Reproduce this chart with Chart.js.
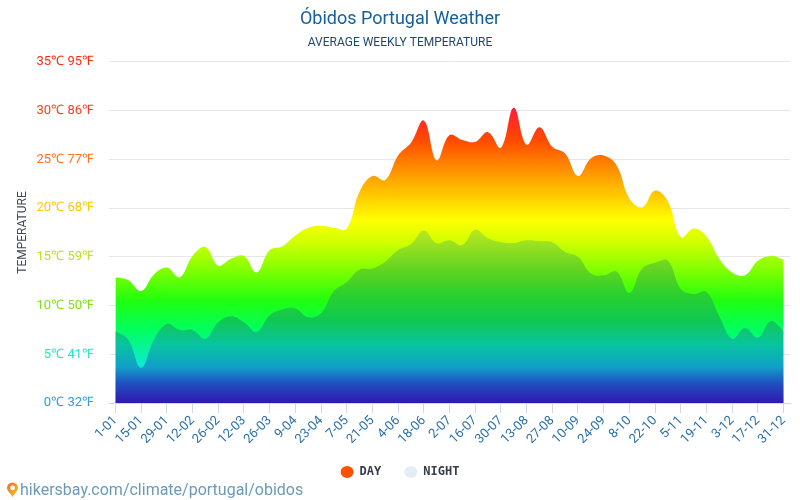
<!DOCTYPE html>
<html>
<head>
<meta charset="utf-8">
<title>Óbidos Portugal Weather</title>
<script src="https://cdn.jsdelivr.net/npm/chart.js@4"></script>
<style>
    html, body { margin: 0; padding: 0; background: #fff; }
    #wrap { position: relative; width: 800px; height: 500px; overflow: hidden; }
    #footer { position: absolute; left: 20px; top: 480px; font: 16px Roboto, sans-serif; color: #6b9ab8; line-height: 20px; white-space: nowrap; }
    #pin { position: absolute; left: 6px; top: 482px; }
</style>
</head>
<body>
<div id="wrap">
    <canvas id="chart" width="800" height="500"></canvas>
    <svg id="pin" width="13" height="16" viewBox="0 0 13 16">
        <defs>
            <linearGradient id="pinGrad" x1="0" y1="0" x2="1" y2="1">
                <stop offset="0" stop-color="#f2683a"/>
                <stop offset="0.6" stop-color="#f5a623"/>
                <stop offset="1" stop-color="#c9c23a"/>
            </linearGradient>
        </defs>
        <path d="M6.5 15 C4 11 1 8.8 1 5.8 A5.5 5.2 0 0 1 12 5.8 C12 8.8 9 11 6.5 15 Z M6.5 3.6 A2.3 2.3 0 1 0 6.5 8.2 A2.3 2.3 0 1 0 6.5 3.6 Z" fill="url(#pinGrad)" fill-rule="evenodd"/>
    </svg>
    <div id="footer">hikersbay.com/climate/portugal/obidos</div>
</div>
<script>
const weeks = ['1-01','8-01','15-01','22-01','29-01','5-02','12-02','19-02','26-02','5-03','12-03','19-03','26-03',
    '2-04','9-04','16-04','23-04','30-04','7-05','14-05','21-05','28-05','4-06','11-06','18-06','25-06','2-07',
    '9-07','16-07','23-07','30-07','6-08','13-08','20-08','27-08','3-09','10-09','17-09','24-09','1-10','8-10',
    '15-10','22-10','29-10','5-11','12-11','19-11','26-11','3-12','10-12','17-12','24-12','31-12'];

const dayTemps = [12.9,12.6,11.5,13.2,13.9,12.9,15.1,16.0,14.1,14.8,15.1,13.4,15.7,16.1,17.2,18.0,18.2,18.0,17.9,
    21.7,23.3,22.9,25.4,26.7,29.0,24.9,27.5,27.0,26.8,27.8,26.2,30.3,26.5,28.3,26.3,25.6,23.3,25.1,25.4,24.4,
    21.0,20.1,21.8,20.7,17.0,17.9,17.1,14.8,13.4,13.1,14.6,15.1,14.7];

const nightTemps = [7.4,6.5,3.6,6.5,8.1,7.5,7.5,6.6,8.3,8.9,8.3,7.3,9.0,9.6,9.7,8.8,9.2,11.5,12.4,13.7,13.8,14.5,
    15.7,16.3,17.7,16.4,16.7,16.2,17.8,16.9,16.5,16.4,16.7,16.6,16.5,15.5,15.0,13.3,13.1,13.5,11.3,13.8,14.4,14.6,
    11.7,11.2,11.4,8.9,6.6,7.7,6.7,8.4,7.4];

const yTickLabels = ['0℃ 32℉','5℃ 41℉','10℃ 50℉','15℃ 59℉','20℃ 68℉','25℃ 77℉','30℃ 86℉','35℃ 95℉'];
const yTickColors = ['#28a0e8','#20e8c8','#7ee020','#c0e020','#ffc800','#ff7020','#ff3d1a','#ff2a10'];

// gradient stops: [temperature, colour]
const dayStops = [[30.3,'#ff1a3c'],[27,'#ff4a00'],[23.4,'#ff9c00'],[18.8,'#ffff00'],[16.5,'#d0ff00'],[13.6,'#80ff00'],
    [10.5,'#20ff10'],[7.5,'#00ff60'],[3.9,'#10e8d0'],[2,'#1a70c8'],[0,'#3018b0']];
const nightStops = [[18,'#c0e820'],[13.6,'#60d420'],[11,'#28d030'],[8.5,'#10c850'],[6,'#08c4a0'],[3.7,'#10a0c8'],
    [2,'#2050c0'],[0,'#3018b0']];

function areaFill(stops) {
    return function (ctx) {
        const chart = ctx.chart;
        if (!chart.chartArea) return null;
        const y = chart.scales.y;
        const top = y.getPixelForValue(35), bottom = y.getPixelForValue(0);
        const g = chart.ctx.createLinearGradient(0, top, 0, bottom);
        stops.forEach(function (s) {
            g.addColorStop((y.getPixelForValue(s[0]) - top) / (bottom - top), s[1]);
        });
        return g;
    };
}

const legendColors = ['#ff5000', '#e6ecf5'];

new Chart(document.getElementById('chart'), {
    type: 'line',
    data: {
        labels: weeks,
        datasets: [
            { label: 'DAY', data: dayTemps, order: 2, fill: 'origin', backgroundColor: areaFill(dayStops), borderWidth: 0, pointRadius: 0, tension: 0.4 },
            { label: 'NIGHT', data: nightTemps, order: 1, fill: 'origin', backgroundColor: areaFill(nightStops), borderWidth: 0, pointRadius: 0, tension: 0.4 }
        ]
    },
    options: {
        responsive: false,
        animation: false,
        layout: { padding: { bottom: 12, top: 9, right: 10, left: 10 } },
        plugins: {
            title: { display: true, text: 'Óbidos Portugal Weather', color: '#14609a', font: { family: 'Roboto', size: 18, weight: 'normal' }, padding: { top: 0, bottom: 4 } },
            subtitle: { display: true, text: 'AVERAGE WEEKLY TEMPERATURE', color: '#1a4a78', font: { family: 'Roboto', size: 12, weight: 'normal' }, padding: { top: 1, bottom: 12 } },
            legend: {
                position: 'bottom',
                labels: {
                    usePointStyle: true,
                    boxHeight: 8.5,
                    pointStyleWidth: 13,
                    padding: 23,
                    color: '#373d4a',
                    font: { family: 'DejaVu Sans Mono', size: 12, weight: 'bold' },
                    generateLabels: function (chart) {
                        return chart.data.datasets.map(function (ds, i) {
                            return { text: ds.label, fillStyle: legendColors[i], strokeStyle: legendColors[i], lineWidth: 0, pointStyle: 'circle', datasetIndex: i, fontColor: '#373d4a' };
                        });
                    }
                }
            },
            tooltip: { enabled: false }
        },
        scales: {
            x: {
                offset: true,
                border: { color: '#cdd8ea' },
                grid: { drawOnChartArea: false, drawTicks: true, tickLength: 10, color: '#cdd8ea', offset: false },
                ticks: { autoSkip: false, minRotation: 45, maxRotation: 45, padding: 0, color: '#2a70a8', font: { family: 'Roboto', size: 13 } },
                // one label every two weeks
                afterBuildTicks: function (s) { s.ticks = s.ticks.filter(function (t, i) { return i % 2 === 0; }); },
                afterFit: function (s) { s.height = 40; }
            },
            y: {
                min: 0,
                max: 35,
                border: { display: false },
                grid: { color: '#e6e6e6', drawTicks: false },
                title: { display: true, text: 'TEMPERATURE', color: '#40485a', padding: { top: 6, bottom: 4 }, font: { family: 'Roboto', size: 12, weight: 'normal' } },
                ticks: {
                    stepSize: 5,
                    padding: 16,
                    font: { family: 'Roboto', size: 13 },
                    color: function (c) { return yTickColors[c.index]; },
                    callback: function (v, i) { return yTickLabels[i]; }
                },
                afterFit: function (s) { s.width = 99; }
            }
        }
    }
});
</script>
</body>
</html>
